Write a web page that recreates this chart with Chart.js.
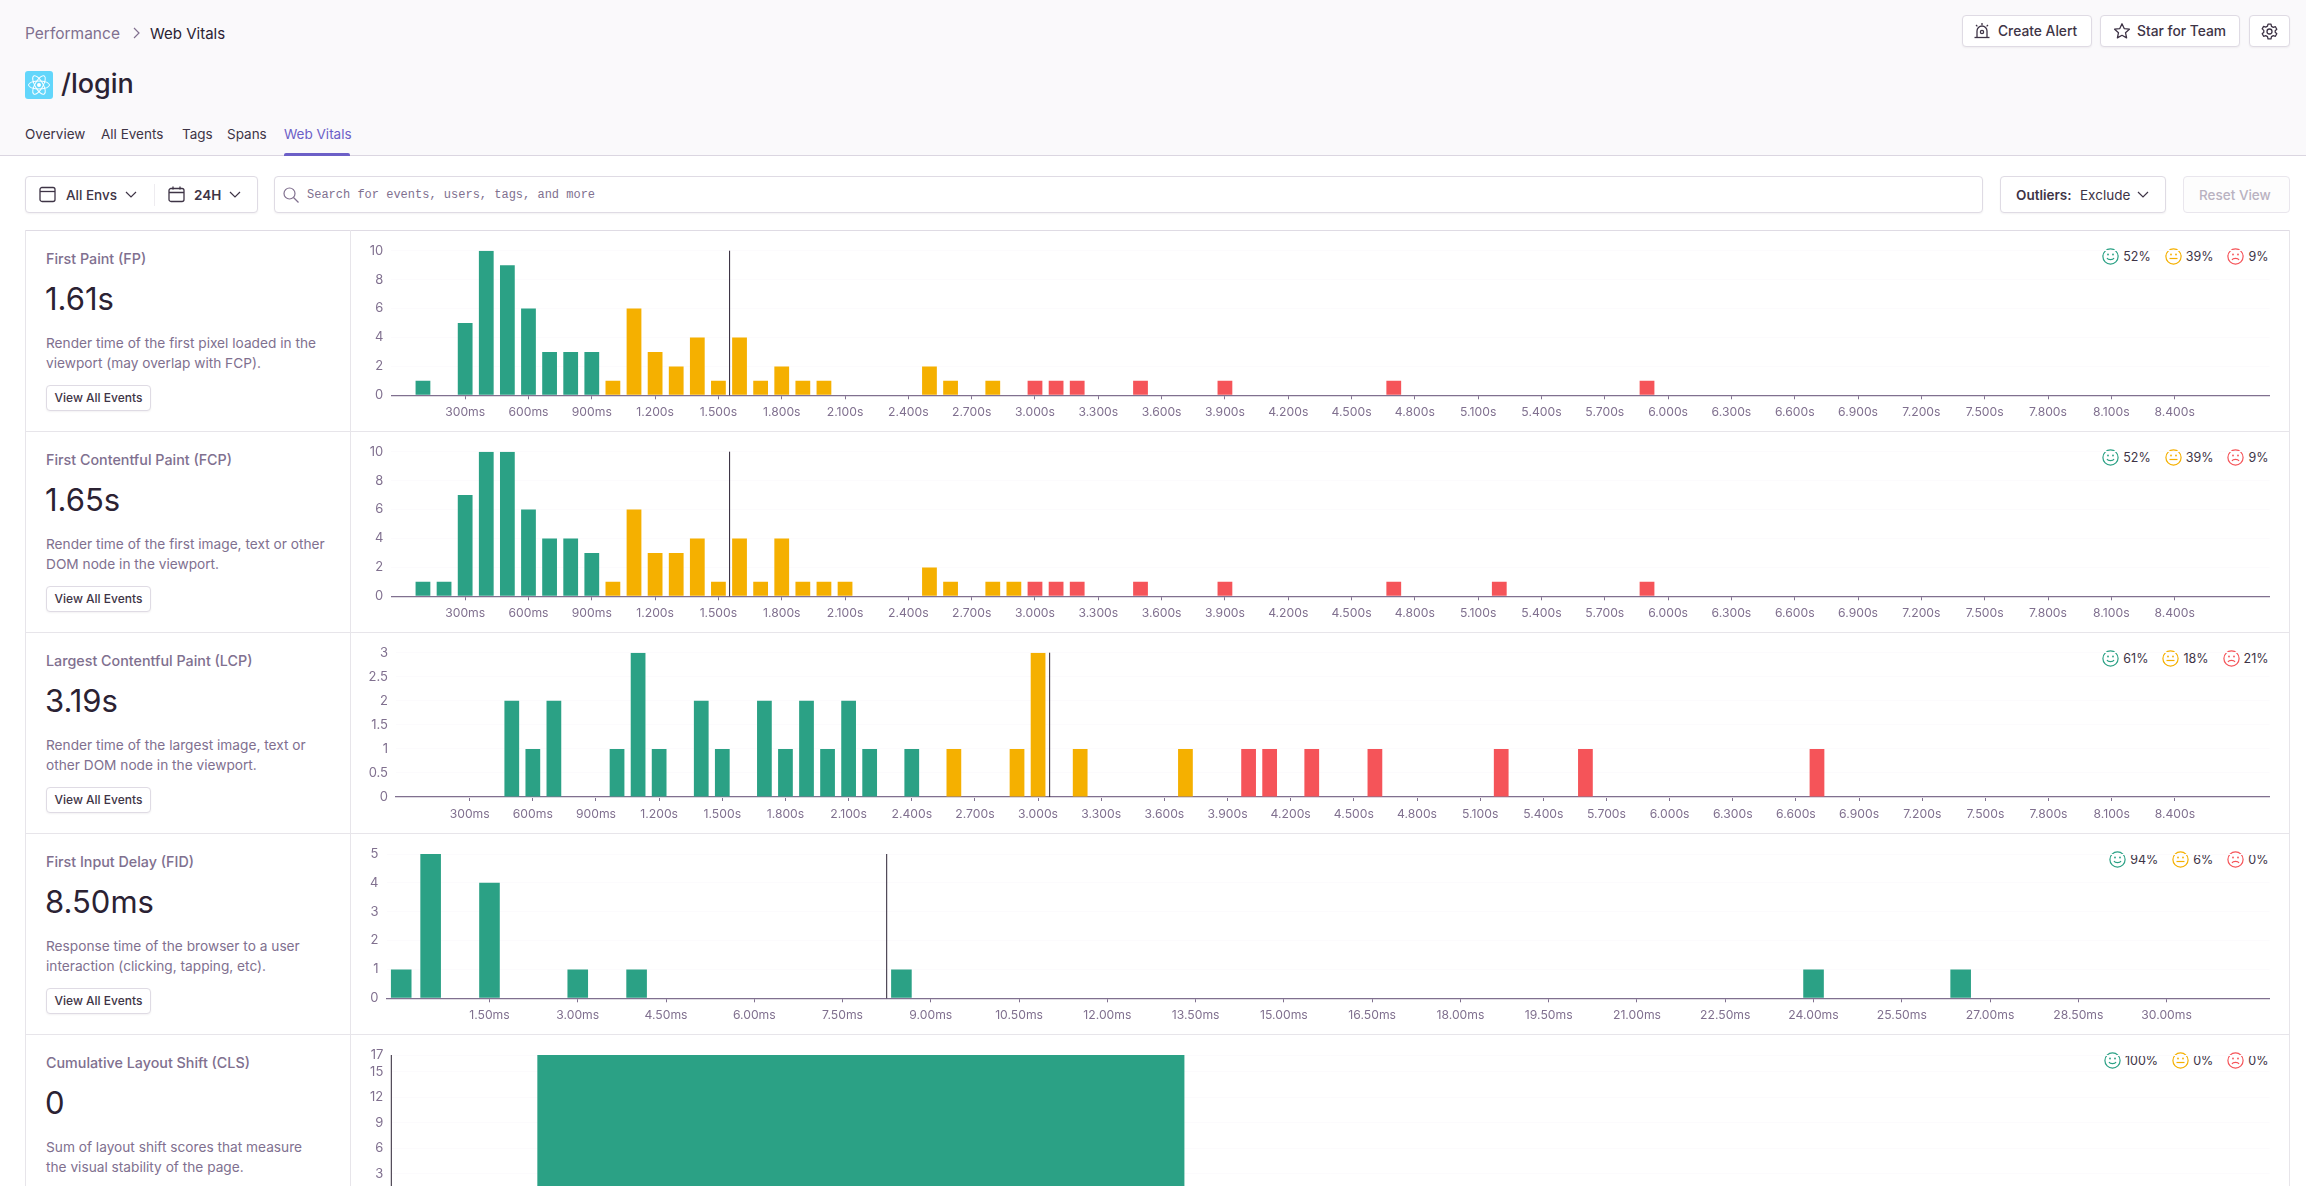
<!DOCTYPE html>
<html><head><meta charset="utf-8"><title>Web Vitals</title>
<script src="https://cdn.jsdelivr.net/npm/chart.js@4/dist/chart.umd.min.js"></script>
<style>
html,body{margin:0;padding:0;width:2306px;height:1186px;overflow:hidden;background:#fff;font-family:Inter,sans-serif;color:#2b2233}
#hdr{position:absolute;left:0;top:0;width:2306px;height:155px;background:#faf9fb;border-bottom:1px solid #dbd6e1}
.a{position:absolute;white-space:nowrap}
.t{position:absolute;white-space:nowrap;height:20px;line-height:20px}
.box{position:absolute;box-sizing:border-box;background:#fff;border:1px solid #dfdbe4;border-radius:4px;box-shadow:0 1px 2px rgba(43,34,51,.06)}
.line{position:absolute;background:#e7e5ea}
.btn{font-size:13.8px;font-weight:500;color:#3e3446}
.legend{position:absolute;display:flex;align-items:center;height:20px;right:37.5px;gap:14px;font-size:12.5px;color:#3e3446}
.legend span{display:flex;align-items:center;gap:4px}
canvas{position:absolute;display:block}
svg{display:block}
</style></head><body>
<div id="hdr"></div>
<div class="t" style="left:25px;top:23.5px;font-size:15.5px;color:#80708f">Performance</div>
<svg class="a" style="left:131px;top:26px" width="10" height="14" viewBox="0 0 10 14"><path d="M3 2l5 5-5 5" fill="none" stroke="#80708f" stroke-width="1.2"/></svg>
<div class="t" style="left:150px;top:23.5px;font-size:15px;color:#2b2233">Web Vitals</div>
<svg class="a" style="left:25px;top:71px" width="28" height="28" viewBox="0 0 28 28"><rect width="28" height="28" rx="3" fill="#62d6fb"/><g fill="none" stroke="#fff" stroke-width="1"><ellipse cx="14" cy="14" rx="10.5" ry="4"/><ellipse cx="14" cy="14" rx="10.5" ry="4" transform="rotate(60 14 14)"/><ellipse cx="14" cy="14" rx="10.5" ry="4" transform="rotate(120 14 14)"/></g><circle cx="14" cy="14" r="2" fill="#fff"/></svg>
<div class="t" style="left:61px;top:74px;font-size:27px;font-weight:500;color:#2b2233">/login</div>
<div class="t" style="left:25px;top:123.5px;font-size:13.5px;color:#3e3446">Overview</div>
<div class="t" style="left:101px;top:123.5px;font-size:13.5px;color:#3e3446">All Events</div>
<div class="t" style="left:182px;top:123.5px;font-size:13.5px;color:#3e3446">Tags</div>
<div class="t" style="left:227px;top:123.5px;font-size:13.5px;color:#3e3446">Spans</div>
<div class="t" style="left:284px;top:123.5px;font-size:13.5px;color:#6c5fc7">Web Vitals</div>
<div class="a" style="left:284px;top:153px;width:66px;height:3px;background:#6c5fc7;border-radius:2px 2px 0 0"></div>

<div class="box" style="left:1962px;top:15px;width:130px;height:32px"></div>
<svg class="a" style="left:1973px;top:22px" width="18" height="18" viewBox="0 0 18 18"><g fill="none" stroke="#3e3446" stroke-width="1.3"><path d="M4 15V9a5 5 0 0 1 10 0v6"/><path d="M1.5 15.5h15"/><circle cx="9" cy="10" r="1.6"/><path d="M9 1v2M3 3l1.4 1.4M15 3l-1.4 1.4"/></g></svg>
<div class="t btn" style="left:1998px;top:21px">Create Alert</div>
<div class="box" style="left:2100px;top:15px;width:140px;height:32px"></div>
<svg class="a" style="left:2113px;top:22px" width="18" height="18" viewBox="0 0 18 18"><path d="M9 1.8l2.2 4.8 5.2.6-3.9 3.5 1.1 5.2L9 13.3l-4.6 2.6 1.1-5.2L1.6 7.2l5.2-.6z" fill="none" stroke="#3e3446" stroke-width="1.3" stroke-linejoin="round"/></svg>
<div class="t btn" style="left:2137px;top:21px">Star for Team</div>
<div class="box" style="left:2249px;top:15px;width:41px;height:32px"></div>
<svg class="a" style="left:2261px;top:23px" width="17" height="17" viewBox="0 0 17 17"><g fill="none" stroke="#3e3446" stroke-width="1.3"><circle cx="8.5" cy="8.5" r="2.5"/><path d="M7 1.2h3l.5 2.2 1.8 1 2.1-.7 1.4 2.5-1.6 1.5v1.6l1.6 1.5-1.4 2.5-2.1-.7-1.8 1-.5 2.2H7l-.5-2.2-1.8-1-2.1.7-1.4-2.5 1.6-1.5V7.4L1.2 5.9l1.4-2.5 2.1.7 1.8-1z" stroke-linejoin="round"/></g></svg>

<div class="box" style="left:25px;top:176px;width:233px;height:37px"></div>
<svg class="a" style="left:39px;top:186px" width="17" height="17" viewBox="0 0 17 17"><g fill="none" stroke="#3e3446" stroke-width="1.3"><rect x="1" y="1.5" width="15" height="14" rx="2"/><path d="M1 5.5h15"/></g></svg>
<div class="t" style="left:66px;top:185px;font-size:13.5px;font-weight:500;color:#3e3446">All Envs</div>
<svg class="a" style="left:125px;top:191px" width="12" height="8" viewBox="0 0 12 8"><path d="M1 1l5 5 5-5" fill="none" stroke="#3e3446" stroke-width="1.2"/></svg>
<div class="line" style="left:154px;top:184px;width:1px;height:22px;background:#eeecf0"></div>
<svg class="a" style="left:168px;top:186px" width="17" height="17" viewBox="0 0 17 17"><g fill="none" stroke="#3e3446" stroke-width="1.3"><rect x="1" y="2.5" width="15" height="13" rx="2"/><path d="M1 6.5h15M5 .5v3M12 .5v3"/></g></svg>
<div class="t" style="left:194px;top:185px;font-size:13.5px;font-weight:600;color:#3e3446">24H</div>
<svg class="a" style="left:229px;top:191px" width="12" height="8" viewBox="0 0 12 8"><path d="M1 1l5 5 5-5" fill="none" stroke="#3e3446" stroke-width="1.2"/></svg>

<div class="box" style="left:274px;top:176px;width:1709px;height:37px"></div>
<svg class="a" style="left:283px;top:187px" width="16" height="16" viewBox="0 0 16 16"><g fill="none" stroke="#80708f" stroke-width="1.2"><circle cx="6.5" cy="6.5" r="5.5"/><path d="M10.5 10.5l5 5"/></g></svg>
<div class="t" style="left:307px;top:185px;font-family:'Liberation Mono',monospace;font-size:12px;color:#80708f">Search for events, users, tags, and more</div>

<div class="box" style="left:2000px;top:176px;width:166px;height:37px"></div>
<div class="t" style="left:2016px;top:185px;font-size:13.5px;font-weight:600;color:#3e3446">Outliers:</div>
<div class="t" style="left:2080px;top:185px;font-size:13.5px;color:#3e3446">Exclude</div>
<svg class="a" style="left:2137px;top:191px" width="12" height="8" viewBox="0 0 12 8"><path d="M1 1l5 5 5-5" fill="none" stroke="#3e3446" stroke-width="1.2"/></svg>
<div class="box" style="left:2183px;top:176px;width:107px;height:37px;background:#fdfdfd;box-shadow:none;border-color:#e9e6ed"></div>
<div class="t" style="left:2199px;top:185px;font-size:13.5px;font-weight:500;color:#b9b2c1">Reset View</div>

<div id="rows"></div>

<script>
// ---------- data ----------
const msBins = [0,100,200,300,400,500,600,700,800,900,1000,1100,1200,1300,1400,1500,1600,1700,1800,1900,2000,2100,2200,2300,2400,2500,2600,2700,2800,2900,3000,3100,3200,3300,3400,3500,3600,3700,3800,3900,4000,4100,4200,4300,4400,4500,4600,4700,4800,4900,5000,5100,5200,5300,5400,5500,5600,5700,5800,5900,6000,6100,6200,6300,6400,6500,6600,6700,6800,6900,7000,7100,7200,7300,7400,7500,7600,7700,7800,7900,8000,8100,8200,8300,8400,8500,8600,8700,8800];
const msTickValues = [300,600,900,1200,1500,1800,2100,2400,2700,3000,3300,3600,3900,4200,4500,4800,5100,5400,5700,6000,6300,6600,6900,7200,7500,7800,8100,8400];
const msTickLabels = ['300ms','600ms','900ms','1.200s','1.500s','1.800s','2.100s','2.400s','2.700s','3.000s','3.300s','3.600s','3.900s','4.200s','4.500s','4.800s','5.100s','5.400s','5.700s','6.000s','6.300s','6.600s','6.900s','7.200s','7.500s','7.800s','8.100s','8.400s'];

const fidBins = [0,0.5,1,1.5,2,2.5,3,3.5,4,4.5,5,5.5,6,6.5,7,7.5,8,8.5,9,9.5,10,10.5,11,11.5,12,12.5,13,13.5,14,14.5,15,15.5,16,16.5,17,17.5,18,18.5,19,19.5,20,20.5,21,21.5,22,22.5,23,23.5,24,24.5,25,25.5,26,26.5,27,27.5,28,28.5,29,29.5,30,30.5,31,31.5];
const fidTickValues = [1.5,3,4.5,6,7.5,9,10.5,12,13.5,15,16.5,18,19.5,21,22.5,24,25.5,27,28.5,30];
const fidTickLabels = ['1.50ms','3.00ms','4.50ms','6.00ms','7.50ms','9.00ms','10.50ms','12.00ms','13.50ms','15.00ms','16.50ms','18.00ms','19.50ms','21.00ms','22.50ms','24.00ms','25.50ms','27.00ms','28.50ms','30.00ms'];

const clsBins = [0,0.01];
const clsTickValues = [0,0.01];
const clsTickLabels = ['0','0.01'];

const fpAt  = [100,300,400,500,600,700,800,900,1000,1100,1200,1300,1400,1500,1600,1700,1800,1900,2000,2500,2600,2800,3000,3100,3200,3500,3900,4700,5900];
const fpCnt = [1,5,10,9,6,3,3,3,1,6,3,2,4,1,4,1,2,1,1,2,1,1,1,1,1,1,1,1,1];
const fcpAt  = [100,200,300,400,500,600,700,800,900,1000,1100,1200,1300,1400,1500,1600,1700,1800,1900,2000,2100,2500,2600,2800,2900,3000,3100,3200,3500,3900,4700,5200,5900];
const fcpCnt = [1,1,7,10,10,6,4,4,3,1,6,3,3,4,1,4,1,4,1,1,1,2,1,1,1,1,1,1,1,1,1,1,1];
const lcpAt  = [500,600,700,1000,1100,1200,1400,1500,1700,1800,1900,2000,2100,2200,2400,2600,2900,3000,3200,3700,4000,4100,4300,4600,5200,5600,6700];
const lcpCnt = [2,1,2,1,3,1,2,1,2,1,2,1,2,1,1,1,1,3,1,1,1,1,1,1,1,1,1];
const fidAt  = [0,0.5,1.5,3,4,8.5,24,26.5];
const fidCnt = [1,5,4,1,1,1,1,1];
const clsAt  = [0];
const clsCnt = [17];

const fpYTicks  = [0,2,4,6,8,10];
const fcpYTicks = [0,2,4,6,8,10];
const lcpYTicks = [0,0.5,1,1.5,2,2.5,3];
const fidYTicks = [0,1,2,3,4,5];
const clsYTicks = [0,3,6,9,12,15,17];

// marker line position, in x-axis units
const fpMarker = 1603, fcpMarker = 1603, lcpMarker = 3105, fidMarker = 8.5, clsMarker = 0;

const titles = ['First Paint (FP)','First Contentful Paint (FCP)','Largest Contentful Paint (LCP)','First Input Delay (FID)','Cumulative Layout Shift (CLS)'];
const bigValues = ['1.61s','1.65s','3.19s','8.50ms','0'];
const descLine1 = ['Render time of the first pixel loaded in the','Render time of the first image, text or other','Render time of the largest image, text or','Response time of the browser to a user','Sum of layout shift scores that measure'];
const descLine2 = ['viewport (may overlap with FCP).','DOM node in the viewport.','other DOM node in the viewport.','interaction (clicking, tapping, etc).','the visual stability of the page.'];
const goodPct = ['52%','52%','61%','94%','100%'];
const mehPct  = ['39%','39%','18%','6%','0%'];
const poorPct = ['9%','9%','21%','0%','0%'];

const GREEN='#2ba185', YELLOW='#f5b000', RED='#f55459', GREY='#80708f';

// ---------- page chrome for the rows ----------
const rowTops = [230,431,632,833,1034];
const face = (c,kind)=>{
  const mouth = kind==0 ? '<path d="M5 10c1 2.2 6 2.2 7 0" fill="none" stroke="'+c+'" stroke-width="1.2"/>' :
                kind==1 ? '<path d="M4.5 10.5h8" stroke="'+c+'" stroke-width="1.2"/>' :
                          '<path d="M5 12c1-2.2 6-2.2 7 0" fill="none" stroke="'+c+'" stroke-width="1.2"/>';
  return '<svg width="17" height="17" viewBox="0 0 17 17"><circle cx="8.5" cy="8.5" r="7.6" fill="none" stroke="'+c+'" stroke-width="1.2"/><circle cx="6" cy="6.5" r=".9" fill="'+c+'"/><circle cx="11" cy="6.5" r=".9" fill="'+c+'"/>'+mouth+'</svg>';
};
let html = '<div class="line" style="left:25px;top:230px;width:2265px;height:1px;background:#dfdbe4"></div>'
 + '<div class="line" style="left:25px;top:230px;width:1px;height:956px"></div>'
 + '<div class="line" style="left:350px;top:230px;width:1px;height:956px"></div>'
 + '<div class="line" style="left:2289px;top:230px;width:1px;height:956px"></div>';
rowTops.forEach((y,i)=>{
  if(i>0) html += '<div class="line" style="left:25px;top:'+y+'px;width:2265px;height:1px"></div>';
  html += '<div class="t" style="left:46px;top:'+(y+19)+'px;font-size:14.3px;font-weight:500;color:'+GREY+'">'+titles[i]+'</div>';
  html += '<div class="a" style="left:45px;top:'+(y+49)+'px;height:40px;line-height:40px;font-size:31px;color:#2b2233">'+bigValues[i]+'</div>';
  html += '<div class="t" style="left:46px;top:'+(y+103)+'px;font-size:13.7px;color:'+GREY+'">'+descLine1[i]+'</div>';
  html += '<div class="t" style="left:46px;top:'+(y+123)+'px;font-size:13.7px;color:'+GREY+'">'+descLine2[i]+'</div>';
  if(i<4){
    html += '<div class="box" style="left:46px;top:'+(y+155)+'px;width:105px;height:26px"></div>';
    html += '<div class="t" style="left:46px;width:105px;text-align:center;top:'+(y+158)+'px;font-size:12px;font-weight:500;color:#3e3446">View All Events</div>';
  }
  html += '<div class="legend" style="top:'+(y+16)+'px"><span>'+face(GREEN,0)+goodPct[i]+'</span><span>'+face(YELLOW,1)+mehPct[i]+'</span><span>'+face(RED,2)+poorPct[i]+'</span></div>';
});
document.getElementById('rows').innerHTML = html;

// ---------- charts ----------
const CANVAS_LEFT = 352, CANVAS_W = 1938, PLOT_RIGHT = 2269.6;

function addChart(o){
  const canvasTop = Math.floor(o.plotTop) - 22;
  const padTop = o.plotTop - canvasTop;
  const H = Math.ceil(padTop + o.plotH + 40);
  const c = document.createElement('canvas');
  c.width = CANVAS_W; c.height = H;
  c.style.left = CANVAS_LEFT+'px'; c.style.top = canvasTop+'px';
  c.style.width = CANVAS_W+'px'; c.style.height = H+'px';
  document.body.appendChild(c);
  const values = o.bins.map(b=>{const k=o.at.indexOf(b); return k<0?0:o.cnt[k];});
  const colors = o.bins.map(b=> b<o.limits[0]?GREEN : b<o.limits[1]?YELLOW : RED);
  new Chart(c,{
    data:{
      labels:o.bins.map(String),
      datasets:[
        {type:'scatter',order:0,xAxisID:'mx',yAxisID:'y',showLine:true,pointRadius:0,borderColor:'#2b2233',borderWidth:1,clip:false,grouped:false,
         data:[{x:o.marker,y:0},{x:o.marker,y:o.yMax}]},
        {type:'bar',order:1,xAxisID:'x',yAxisID:'y',data:values,backgroundColor:colors,borderWidth:0,grouped:false,
         barPercentage:o.barShare,categoryPercentage:1}
      ]
    },
    options:{
      responsive:false,animation:false,devicePixelRatio:1,
      layout:{padding:{top:padTop,right:CANVAS_LEFT+CANVAS_W-PLOT_RIGHT,left:0,bottom:0}},
      plugins:{legend:{display:false},tooltip:{enabled:false}},
      scales:{
        mx:{type:'linear',display:false,min:0,max:o.markerMax},
        x:{type:'category',position:'bottom',offset:true,
           grid:{offset:false,drawOnChartArea:false,drawTicks:true,tickLength:4,color:GREY,tickWidth:1},
           border:{display:true,color:GREY,width:1.2},
           ticks:{autoSkip:false,maxRotation:0,minRotation:0,padding:6,color:GREY,font:{family:'Inter, sans-serif',size:12.2},
                  callback:(v,i)=>o.tickLabels[i]},
           afterBuildTicks:s=>{s.ticks=o.tickValues.map(v=>({value:o.bins.indexOf(v)}));},
           afterFit:s=>{s.height=H-padTop-o.plotH;}},
        y:{type:'linear',min:0,max:o.yMax,
           grid:{color:'#fcfbfd',drawTicks:false},
           border:{display:false},
           ticks:{autoSkip:false,padding:8,color:GREY,font:{family:'Inter, sans-serif',size:13},callback:v=>String(v)},
           afterBuildTicks:s=>{s.ticks=o.yTicks.map(v=>({value:v}));},
           afterFit:s=>{s.width=o.plotLeft-CANVAS_LEFT;}}
      }
    }
  });
}

addChart({bins:msBins,at:fpAt,cnt:fpCnt,limits:[1000,3000],tickValues:msTickValues,tickLabels:msTickLabels,yTicks:fpYTicks,yMax:10,marker:fpMarker,markerMax:8900,plotTop:250.7,plotH:144.6,plotLeft:391.3,barShare:0.7});
addChart({bins:msBins,at:fcpAt,cnt:fcpCnt,limits:[1000,3000],tickValues:msTickValues,tickLabels:msTickLabels,yTicks:fcpYTicks,yMax:10,marker:fcpMarker,markerMax:8900,plotTop:451.7,plotH:144.6,plotLeft:391.3,barShare:0.7});
addChart({bins:msBins,at:lcpAt,cnt:lcpCnt,limits:[2500,4000],tickValues:msTickValues,tickLabels:msTickLabels,yTicks:lcpYTicks,yMax:3,marker:lcpMarker,markerMax:8900,plotTop:652.7,plotH:144.3,plotLeft:396,barShare:0.7});
addChart({bins:fidBins,at:fidAt,cnt:fidCnt,limits:[100,300],tickValues:fidTickValues,tickLabels:fidTickLabels,yTicks:fidYTicks,yMax:5,marker:fidMarker,markerMax:32,plotTop:854,plotH:144.3,plotLeft:386.5,barShare:0.7});
addChart({bins:clsBins,at:clsAt,cnt:clsCnt,limits:[0.1,0.25],tickValues:clsTickValues,tickLabels:clsTickLabels,yTicks:clsYTicks,yMax:17,marker:clsMarker,markerMax:1,plotTop:1055,plotH:144.3,plotLeft:391.3,barShare:0.689});
</script>
</body></html>
